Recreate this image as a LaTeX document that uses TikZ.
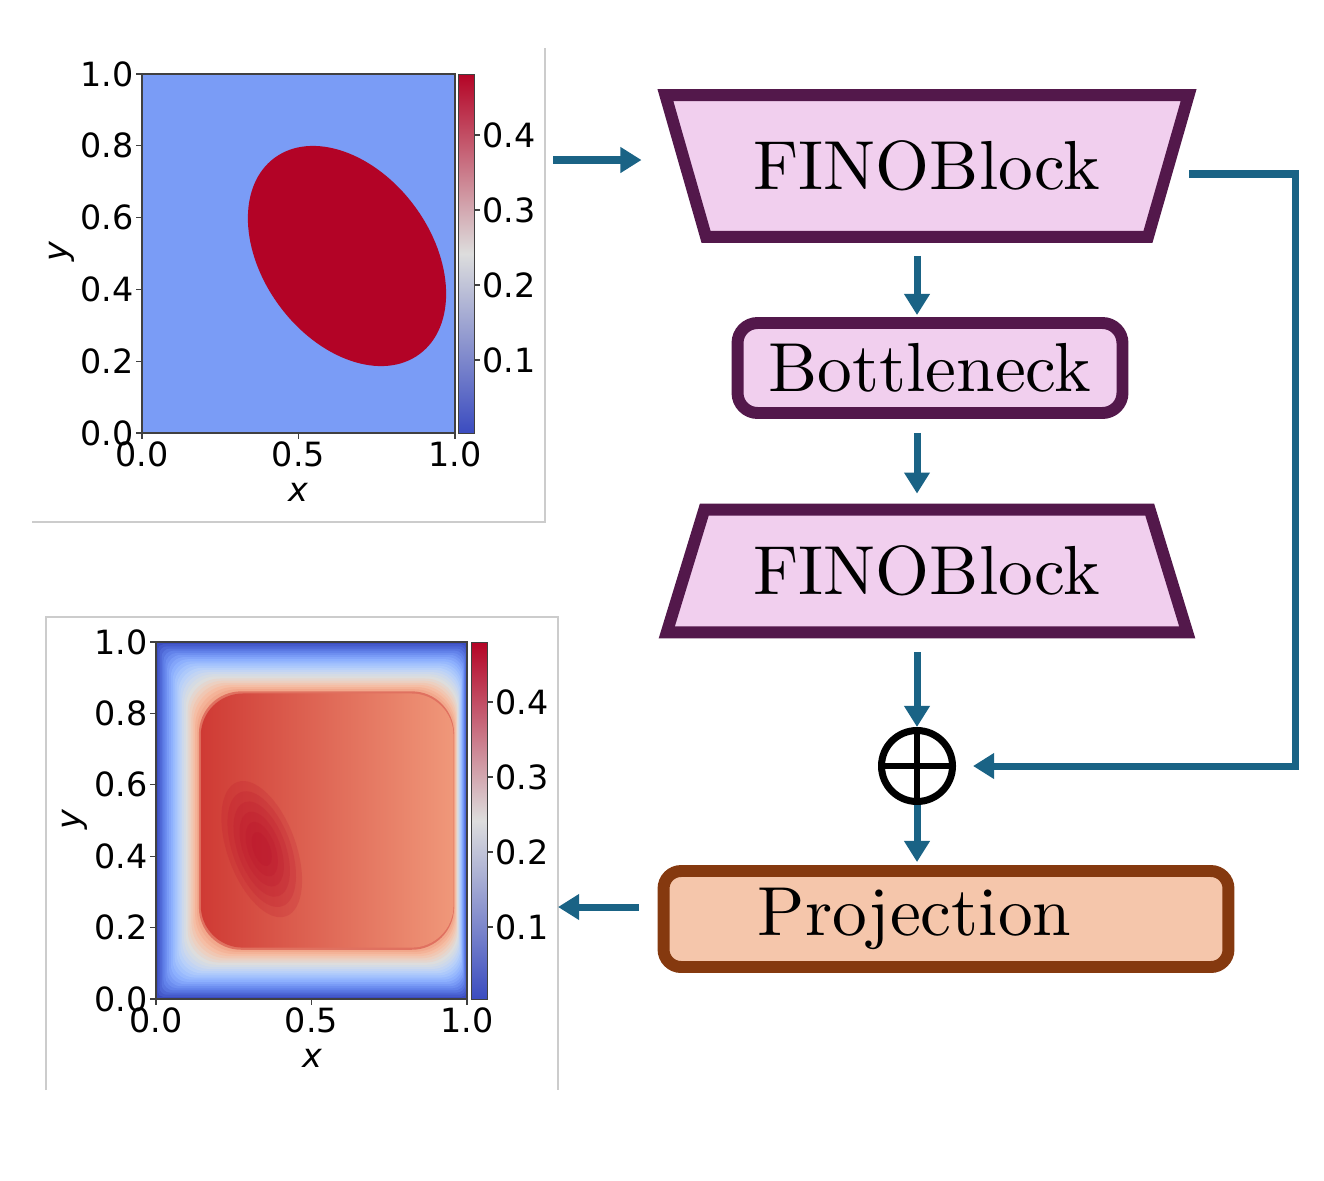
\documentclass[tikz,border=0pt]{standalone}
\usepackage{fontspec}
\usepackage{tikz}
\usetikzlibrary{calc, shapes, arrows, arrows.meta}
\newfontfamily\plotfont{DejaVu Sans}
\newfontfamily\blockface{lmroman10-regular.otf}

\definecolor{flowblue}{RGB}{26,99,133}
\definecolor{finoedge}{RGB}{83,24,75}
\definecolor{finofill}{RGB}{241,207,238}
\definecolor{projedge}{RGB}{133,57,15}
\definecolor{projfill}{RGB}{245,198,171}
\definecolor{inblue}{RGB}{122,156,246}
\definecolor{inred}{RGB}{179,3,38}
\definecolor{cw0}{RGB}{59,76,192}
\definecolor{cw1}{RGB}{78,103,214}
\definecolor{cw2}{RGB}{98,130,234}
\definecolor{cw3}{RGB}{120,154,246}
\definecolor{cw4}{RGB}{141,176,254}
\definecolor{cw5}{RGB}{163,194,253}
\definecolor{cw6}{RGB}{184,208,249}
\definecolor{cw7}{RGB}{204,216,236}
\definecolor{cw8}{RGB}{221,221,221}
\definecolor{cw9}{RGB}{236,208,193}
\definecolor{cw10}{RGB}{245,190,165}
\definecolor{cw11}{RGB}{242,168,140}
\definecolor{cwleft}{RGB}{207,58,52}
\definecolor{cwright}{RGB}{240,152,122}
\definecolor{cwtop}{RGB}{180,4,38}

\newcommand{\tickfont}{\plotfont\fontsize{19}{19}\selectfont}
\newcommand{\blockfont}{\blockface\fontsize{39.5}{44}\selectfont}

\begin{document}
\begin{tikzpicture}[x=0.02cm, y=-0.02cm]
\tikzstyle{line} = [draw=flowblue, line width=4pt, -{Triangle[width=14pt,length=12pt]}]
\tikzstyle{fino} = [trapezium, draw=finoedge, fill=finofill, line width=6.8pt, font=\blockfont]
\tikzstyle{bneckbox} = [rectangle, rounded corners=0.4cm, draw=finoedge, fill=finofill, line width=6.8pt, font=\blockfont, minimum width=7.7cm, minimum height=1.8cm, inner sep=0pt]
\tikzstyle{projbox} = [rectangle, rounded corners=0.35cm, draw=projedge, fill=projfill, line width=6.8pt, font=\blockfont, minimum width=11.3cm, minimum height=1.92cm, inner sep=0pt]
\tikzstyle{sumnode} = [circle, draw=black, line width=4pt, minimum size=1.42cm, inner sep=0pt, path picture={\draw[line width=3pt] (path picture bounding box.north) -- (path picture bounding box.south) (path picture bounding box.west) -- (path picture bounding box.east);}]
\tikzstyle{spine} = [draw=black!75, line width=0.7pt]
\tikzstyle{panel} = [draw=black!20, line width=0.7pt]
\tikzstyle{ticklabel} = [font=\tickfont, inner sep=0pt]

\useasboundingbox (0,0) rectangle (1324,1180);

% input field
\draw[panel] (32,522) -- (545,522) -- (545,48);
\fill[inblue] (142,74) rectangle (455,433);
\fill[inred, rotate around={-53.5:(347,256)}] (347,256) ellipse [x radius=122, y radius=84];
\draw[spine] (142,74) rectangle (455,433);
\foreach \v/\lab [count=\i] in {0/0.0, 1/0.2, 2/0.4, 3/0.6, 4/0.8, 5/1.0} {
  \draw[spine] (142,433-71.8*\v) -- ++(-6,0);
  \node[ticklabel, anchor=east] (inyt\i) at (134,433-71.8*\v) {\lab};
}
\foreach \u/\lab [count=\i] in {0/0.0, 0.5/0.5, 1/1.0} {
  \draw[spine] (142+313*\u,433) -- ++(0,6);
  \node[ticklabel, anchor=north] (inxt\i) at (142+313*\u,441) {\lab};
}
\shade[bottom color=cw0, top color=cwtop, middle color=cw8] (458,74) rectangle (474,433);
\draw[spine, line width=0.4pt] (458,74) rectangle (474,433);
\foreach \y/\lab [count=\i] in {135/0.4, 210/0.3, 285/0.2, 360/0.1} {
  \draw[spine] (474,\y) -- ++(6,0);
  \node[ticklabel, anchor=west] (incb\i) at (482,\y) {\lab};
}
\node[ticklabel, font=\tickfont\itshape] (inxl) at (298,492) {x};
\node[ticklabel, font=\tickfont\itshape, rotate=90] (inyl) at (62,252) {y};

% output field
\draw[panel] (46,1090) -- (46,617) -- (558,617) -- (558,1090);
\begin{scope}[shift={(156,999)}, x=6.22cm, y=7.14cm]
\fill[cw0] (0,0) rectangle (1,1);
\foreach \d/\c [evaluate=\d as \r using 2+160*\d] in {0.006/cw0!50!cw1, 0.012/cw1, 0.018/cw1!50!cw2, 0.024/cw2, 0.03/cw2!50!cw3, 0.036/cw3, 0.042/cw3!50!cw4, 0.048/cw4, 0.054/cw4!50!cw5, 0.06/cw5, 0.066/cw5!50!cw6, 0.072/cw6, 0.078/cw6!50!cw7, 0.084/cw7, 0.09/cw7!50!cw8, 0.096/cw8, 0.102/cw8!50!cw9, 0.108/cw9, 0.114/cw9!50!cw10, 0.12/cw10, 0.126/cw10!50!cw11, 0.132/cw11, 0.138/cw11!50!cwleft}
  \fill[\c, rounded corners=\r pt] (\d,\d) rectangle (1-0.3*\d,1-\d);
\shade[left color=cwleft, right color=cwright, rounded corners=24pt] (0.144,0.144) rectangle (0.957,0.856);
\foreach \s in {1,0.85,0.7,0.55,0.4,0.25}
  \fill[cwtop, opacity=0.15, rotate around={20:(0.34,0.42)}] (0.34,0.42) ellipse [x radius=0.11*\s, y radius=0.2*\s];
\end{scope}
\draw[spine] (156,642) rectangle (467,999);
\foreach \v/\lab [count=\i] in {0/0.0, 1/0.2, 2/0.4, 3/0.6, 4/0.8, 5/1.0} {
  \draw[spine] (156,999-71.4*\v) -- ++(-6,0);
  \node[ticklabel, anchor=east] (outyt\i) at (148,999-71.4*\v) {\lab};
}
\foreach \u/\lab [count=\i] in {0/0.0, 0.5/0.5, 1/1.0} {
  \draw[spine] (156+311*\u,999) -- ++(0,6);
  \node[ticklabel, anchor=north] (outxt\i) at (156+311*\u,1007) {\lab};
}
\shade[bottom color=cw0, top color=cwtop, middle color=cw8] (471,642) rectangle (487,999);
\draw[spine, line width=0.4pt] (471,642) rectangle (487,999);
\foreach \y/\lab [count=\i] in {702/0.4, 777/0.3, 852/0.2, 927/0.1} {
  \draw[spine] (487,\y) -- ++(6,0);
  \node[ticklabel, anchor=west] (outcb\i) at (495,\y) {\lab};
}
\node[ticklabel, font=\tickfont\itshape] (outxl) at (312,1058) {x};
\node[ticklabel, font=\tickfont\itshape, rotate=90] (outyl) at (75,820) {y};

% network
\node[fino, shape border rotate=180, trapezium angle=74, inner xsep=27pt, inner ysep=26pt] (fino1) at (927,166) {FINOBlock};
\node[bneckbox] (bneck) at (930,368) {Bottleneck};
\node[fino, trapezium angle=73, inner xsep=28pt, inner ysep=20.6pt] (fino2) at (927,571) {FINOBlock};
\node[sumnode] (sum) at (917,766) {};
\node[projbox] (proj) at (946,919) {Projection\hspace*{1.26cm}};

\coordinate (inpt) at (553,160);
\coordinate (outpt) at (558,907);
\coordinate (skip) at (1295,174);

\path [line, shorten >=0.76cm] (inpt) -- (inpt -| fino1.west);
\path [line, shorten <=0.26cm, shorten >=0.04cm] (fino1.south -| sum) -- (bneck.north -| sum);
\path [line, shorten <=0.28cm, shorten >=0.2cm] (bneck.south -| sum) -- (fino2.north -| sum);
\path [line, shorten <=0.28cm] (fino2.south -| sum) -- (sum);
\path [line, shorten >=0.06cm] (sum) -- (proj.north -| sum);
\path [line, shorten <=0.3cm, shorten >=0.34cm] (fino1.east |- skip) -- (skip) |- (sum);
\path [line, shorten <=0.38cm] (proj.west |- outpt) -- (outpt);
\end{tikzpicture}
\end{document}
